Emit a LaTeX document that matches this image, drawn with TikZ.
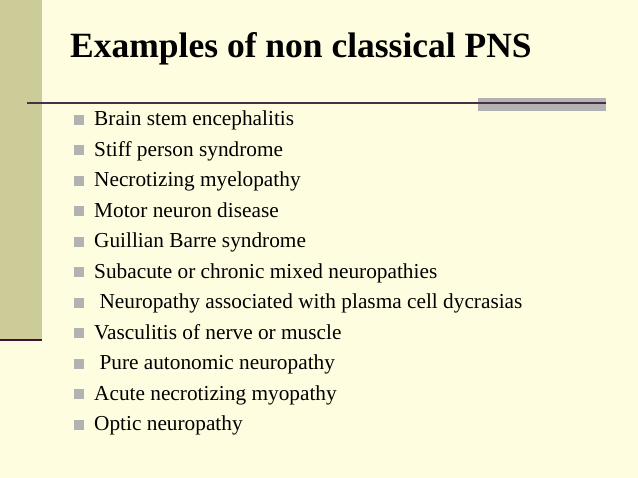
\documentclass[tikz,border=0pt]{standalone}
\usepackage{fontspec}
\setmainfont{Liberation Serif}
\begin{document}
\begin{tikzpicture}[x=1pt,y=-1pt,
  item/.style={anchor=base west,font=\fontsize{21.3}{24}\selectfont,inner sep=0pt},
  bul/.style={fill=black!30,minimum size=10pt,inner sep=0pt}]
\fill[yellow!12] (0,0) rectangle (638,478);
\useasboundingbox (0,0) rectangle (638,478);
\fill[fill={rgb,255:red,204;green,204;blue,153}] (0,0) rectangle (42,340);
\draw[line width=2pt,color={rgb,255:red,60;green,20;blue,50}] (0,340) -- (42,340);
\fill[black!30] (478,98) rectangle (606,111);
\draw[line width=2pt,color={rgb,255:red,80;green,45;blue,70}] (27,103.5) -- (606,103.5);
\node[anchor=base west,inner sep=0pt,font=\fontsize{35.5}{40}\selectfont\bfseries] (title) at (70,58) {Examples of non classical PNS};
\foreach \t [count=\i] in {Brain stem encephalitis,Stiff person syndrome,Necrotizing myelopathy,Motor neuron disease,Guillian Barre syndrome,Subacute or chronic mixed neuropathies,{\ Neuropathy associated with plasma cell dycrasias},Vasculitis of nerve or muscle,{\ Pure autonomic neuropathy},Acute necrotizing myopathy,Optic neuropathy}{
  \node[bul] (b\i) at (78.5,{120+(\i-1)*30.5}) {};
  \node[item] (t\i) at (94,{126+(\i-1)*30.5}) {\t};
}
\end{tikzpicture}
\end{document}
